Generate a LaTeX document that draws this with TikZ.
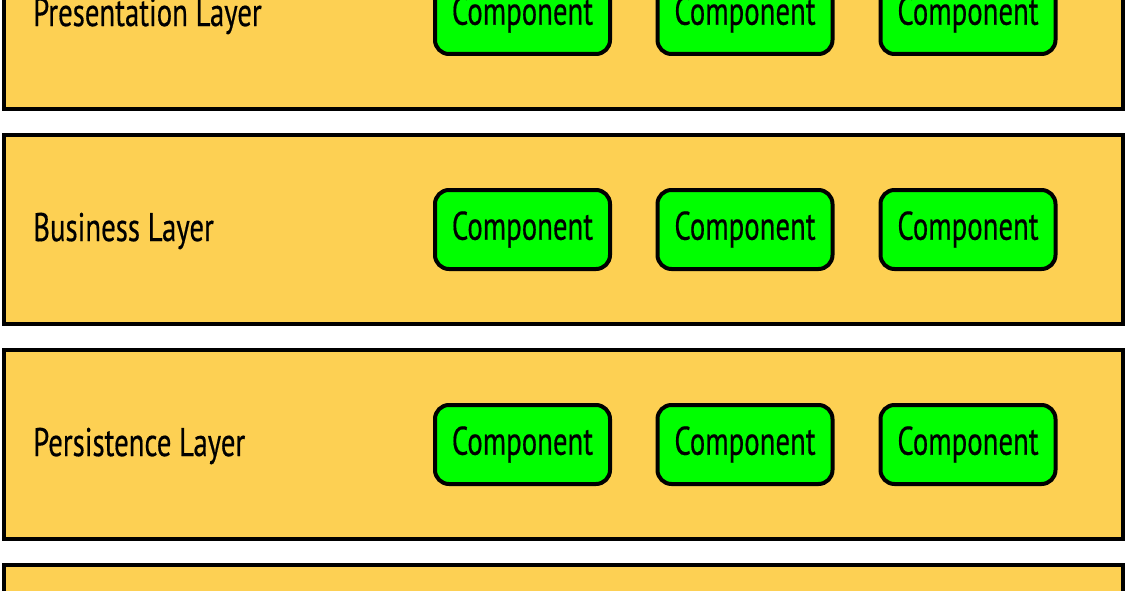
\documentclass[tikz,border=0pt]{standalone}
\usepackage{fontspec}
\setmainfont[FakeStretch=0.72,FakeBold=0.4]{PT Sans}
\definecolor{layerfill}{RGB}{253,208,83}
\definecolor{compfill}{RGB}{0,255,0}
\begin{document}
\begin{tikzpicture}[
    x=1pt, y=-1pt,
    layer/.style={draw=black, line width=4pt, fill=layerfill},
    component/.style={draw=black, line width=4pt, fill=compfill,
        rounded corners=14pt, minimum width=175pt, minimum height=79pt,
        inner sep=0pt, font=\fontsize{40}{42}\selectfont},
    layername/.style={anchor=west, inner sep=0pt, font=\fontsize{40}{42}\selectfont}
]
    % Fix the frame of the picture, the top and bottom layers run off it
    \useasboundingbox (0,0) rectangle (1127,591);
    \clip (0,0) rectangle (1127,591);

    % --- Define Coordinates for the corners of the layers ---
    \coordinate (Pres_Top) at (4,-80);
    \coordinate (Pres_Bot) at (1123,109);

    \coordinate (Bus_Top) at (4,135);
    \coordinate (Bus_Bot) at (1123,324);

    \coordinate (Pers_Top) at (4,350);
    \coordinate (Pers_Bot) at (1123,539);

    \coordinate (Data_Top) at (4,565);
    \coordinate (Data_Bot) at (1123,754);

    % Draw the layers
    \draw[layer] (Pres_Top) rectangle (Pres_Bot);
    \draw[layer] (Bus_Top) rectangle (Bus_Bot);
    \draw[layer] (Pers_Top) rectangle (Pers_Bot);
    \draw[layer] (Data_Top) rectangle (Data_Bot);

    % --- Layer names ---
    \node[layername] (Pres_Label) at (33,16) {Presentation Layer};
    \node[layername] (Bus_Label) at (33,231) {Business Layer};
    \node[layername] (Pers_Label) at (33,446) {Persistence Layer};

    % --- Components, three in each layer ---
    \node[component] (Pres_C1) at (522.5,14.5) {Component};
    \node[component] (Pres_C2) at (745,14.5) {Component};
    \node[component] (Pres_C3) at (968,14.5) {Component};

    \node[component] (Bus_C1) at (522.5,229.5) {Component};
    \node[component] (Bus_C2) at (745,229.5) {Component};
    \node[component] (Bus_C3) at (968,229.5) {Component};

    \node[component] (Pers_C1) at (522.5,444.5) {Component};
    \node[component] (Pers_C2) at (745,444.5) {Component};
    \node[component] (Pers_C3) at (968,444.5) {Component};

\end{tikzpicture}
\end{document}
